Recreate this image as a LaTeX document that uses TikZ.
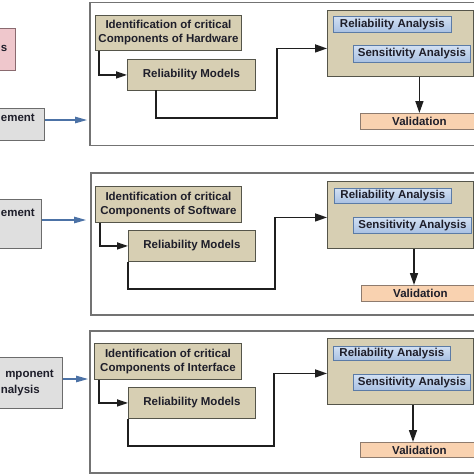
\documentclass[tikz,border=0pt]{standalone}
\usepackage{fontspec}
\setmainfont{Liberation Sans}
\usetikzlibrary{arrows.meta}
\definecolor{panelgray}{HTML}{737373}
\definecolor{tanfill}{HTML}{D7CFB3}
\definecolor{tanborder}{HTML}{55554A}
\definecolor{bluetop}{HTML}{D2E0F3}
\definecolor{bluebot}{HTML}{A8C0E2}
\definecolor{blueborder}{HTML}{5B7BA6}
\definecolor{valfill}{HTML}{F9D2B0}
\definecolor{valborder}{HTML}{8E7B6E}
\definecolor{grayfill}{HTML}{DFDFDF}
\definecolor{grayborder}{HTML}{6C6C6C}
\definecolor{pinkfill}{HTML}{EFC7CC}
\definecolor{pinkborder}{HTML}{8A6A6F}
\definecolor{txt}{HTML}{1E1E2A}
\definecolor{bluearrow}{HTML}{4C72A6}
\newcommand\boxfont{\fontsize{11.5}{14}\selectfont\bfseries}
\begin{document}
\begin{tikzpicture}[x=1pt,y=-1pt,
  panel/.style={draw=panelgray, line width=1.7pt, fill=white, anchor=north west, inner sep=0pt},
  tanbox/.style={draw=tanborder, line width=0.9pt, fill=tanfill, font=\boxfont, text=txt, align=center, inner sep=0pt, anchor=north west},
  bluebox/.style={draw=blueborder, line width=0.8pt, top color=bluetop, bottom color=bluebot, font=\boxfont, text=txt, inner sep=0pt, anchor=north west},
  valbox/.style={draw=valborder, line width=0.8pt, fill=valfill, font=\boxfont, text=txt, inner sep=0pt, anchor=north west},
  graybox/.style={draw=grayborder, line width=0.9pt, fill=grayfill, inner sep=0pt, anchor=north west},
  pinkbox/.style={draw=pinkborder, line width=0.9pt, fill=pinkfill, inner sep=0pt, anchor=north west},
  lefttext/.style={font=\boxfont, text=txt, inner sep=0pt, anchor=east},
  conn/.style={line width=1.5pt, draw=black!88, -{Triangle[length=12pt,width=8pt]}},
  shortconn/.style={line width=1.5pt, draw=black!88, -{Triangle[length=11pt,width=7pt]}},
  blueconn/.style={line width=1.2pt, draw=bluearrow, -{Triangle[length=12pt,width=6.5pt]}}
]
\clip (0,0) rectangle (474,474);
\fill[white] (0,0) rectangle (474,474);

% ---------- left-hand boxes ----------
\node[pinkbox, minimum width=30, minimum height=42] (pk1) at (-15,28) {};
\node[lefttext] (pk1t) at (7.5,48.5) {s};
\node[graybox, minimum width=59, minimum height=32] (gb1) at (-15,108) {};
\node[lefttext] (gb1t) at (35,118) {ement};
\node[graybox, minimum width=56, minimum height=49] (gb2) at (-15,199) {};
\node[lefttext] (gb2t) at (35,213) {ement};
\node[graybox, minimum width=77, minimum height=51] (gb3) at (-15,357) {};
\node[lefttext] (gb3a) at (54,375) {mponent};
\node[lefttext] (gb3b) at (40,390.5) {nalysis};

% ---------- panels ----------
\node[panel, minimum width=400, minimum height=143] (p1) at (89,1.5) {};
\node[panel, minimum width=400, minimum height=142] (p2) at (90,172) {};
\node[panel, minimum width=400, minimum height=142] (p3) at (89,330) {};

% blue arrows
\coordinate (e1) at (87,120);
\coordinate (e2) at (86,220);
\coordinate (e3) at (88,379);
\draw[blueconn] (gb1.east |- e1) -- (e1);
\draw[blueconn] (gb2.east |- e2) -- (e2);
\draw[blueconn] (gb3.east |- e3) -- (e3);

% ---------- panel 1 ----------
\node[tanbox, minimum width=146, minimum height=35] (id1) at (95,15) {Identification of critical\\Components of Hardware};
\node[tanbox, minimum width=128, minimum height=31] (rm1) at (127,59) {Reliability Models};
\node[tanbox, minimum width=146, minimum height=66] (an1) at (327,10) {};
\node[bluebox, minimum width=118, minimum height=16] (ra1) at (333,16) {Reliability Analysis};
\node[bluebox, minimum width=117, minimum height=17] (sa1) at (353,45) {Sensitivity Analysis};
\node[valbox, minimum width=118, minimum height=16] (va1) at (360,113) {Validation};
\coordinate (k1) at (277,118);
\coordinate (s1) at (156,90);
\draw[shortconn] ([xshift=4pt]id1.south west) |- (rm1.west);
\draw[conn] (s1) |- (k1) |- ([yshift=-5pt]an1.west);
\draw[conn] (an1.south -| va1.north) -- (va1.north);

% ---------- panel 2 ----------
\node[tanbox, minimum width=146, minimum height=36] (id2) at (95,186) {Identification of critical\\Components of Software};
\node[tanbox, minimum width=127, minimum height=31] (rm2) at (128,230) {Reliability Models};
\node[tanbox, minimum width=146, minimum height=67] (an2) at (327,181) {};
\node[bluebox, minimum width=117, minimum height=15] (ra2) at (334,188) {Reliability Analysis};
\node[bluebox, minimum width=118, minimum height=16] (sa2) at (353,217) {Sensitivity Analysis};
\node[valbox, minimum width=118, minimum height=16] (va2) at (361,285) {Validation};
\coordinate (k2) at (275,289);
\coordinate (d2) at (414,285);
\draw[shortconn] ([xshift=5pt]id2.south west) |- (rm2.west);
\draw[conn] (rm2.south west) |- (k2) |- ([yshift=-2.5pt]an2.west);
\draw[conn] (d2 |- an2.south) -- (d2);

% ---------- panel 3 ----------
\node[tanbox, minimum width=147, minimum height=36] (id3) at (94,343) {Identification of critical\\Components of Interface};
\node[tanbox, minimum width=127, minimum height=31] (rm3) at (128,387) {Reliability Models};
\node[tanbox, minimum width=146, minimum height=66] (an3) at (327,338) {};
\node[bluebox, minimum width=117, minimum height=14] (ra3) at (333,346) {Reliability Analysis};
\node[bluebox, minimum width=117, minimum height=16] (sa3) at (353,374) {Sensitivity Analysis};
\node[valbox, minimum width=118, minimum height=15] (va3) at (360,442) {Validation};
\coordinate (k3) at (274,446);
\coordinate (d3) at (413,442);
\draw[shortconn] ([xshift=5pt]id3.south west) |- (rm3.west);
\draw[conn] (rm3.south west) |- (k3) |- ([yshift=-2pt]an3.west);
\draw[conn] (d3 |- an3.south) -- (d3);
\end{tikzpicture}
\end{document}
